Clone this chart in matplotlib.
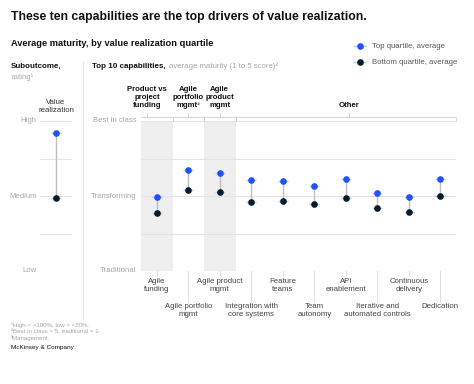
import numpy as np
import matplotlib
matplotlib.use('Agg')
import matplotlib.pyplot as plt

plt.rcParams['font.family'] = ['Liberation Sans', 'DejaVu Sans']

# data
caps = ['Agile\nfunding', 'Agile portfolio\nmgmt', 'Agile product\nmgmt',
        'Integration with\ncore systems', 'Feature\nteams', 'Team\nautonomy',
        'API\nenablement', 'Iterative and\nautomated controls',
        'Continuous\ndelivery', 'Dedication']
top_q = [2.98, 3.69, 3.61, 3.42, 3.40, 3.28, 3.46, 3.09, 2.97, 3.46]
bot_q = [2.55, 3.15, 3.10, 2.84, 2.87, 2.80, 2.95, 2.67, 2.58, 3.00]

vr_top = 2.84
vr_bot = 1.98

mat_levels = [1, 3, 5]
mat_labels = ['Traditional', 'Transforming', 'Best in class']
vr_levels = [1, 2, 3]
vr_labels = ['Low', 'Medium', 'High']

groups = ['Product vs\nproject\nfunding', 'Agile\nportfolio\nmgmt\u00b3', 'Agile\nproduct\nmgmt', 'Other']
group_span = [(-0.5, 0.5), (0.5, 1.5), (1.5, 2.5), (2.5, 9.5)]
group_cx = [-0.3, 1.0, 2.0, 6.1]
shaded = [0, 2]

blue = '#2251FF'
dark = '#051C2C'
grey = '#A6A6A6'
gl = '#E4E4E4'

W, H = 474, 384
fig = plt.figure(figsize=(W / 100, H / 100), dpi=100)

def fx(x):
    return x / W

def fy(y):
    return 1 - y / H

def dot(ax, x, y, c):
    ax.plot(x, y, marker='_', ms=7.5, mew=1.0, color='#C9CCD6', zorder=4, clip_on=False)
    ax.plot(x, y, marker='o', ms=4.8, color=c, mec='none', zorder=5, clip_on=False)

fs = 5.6

# titles
fig.text(fx(11), fy(17), 'These ten capabilities are the top drivers of value realization.',
         fontsize=8.85, fontweight='bold', va='center', ha='left', color='#111111')
fig.text(fx(11), fy(44), 'Average maturity, by value realization quartile',
         fontsize=6.65, fontweight='bold', va='center', ha='left', color='#111111')
fig.text(fx(11), fy(66), 'Suboutcome,', fontsize=5.8, fontweight='bold', va='center', color='#111111')
fig.text(fx(11), fy(77), 'rating\u00b9', fontsize=fs, va='center', color=grey)
fig.text(fx(92), fy(66), 'Top 10 capabilities,', fontsize=5.8, fontweight='bold',
         va='center', color='#111111')
fig.text(fx(169), fy(66), 'average maturity (1 to 5 score)\u00b2', fontsize=fs,
         va='center', color=grey)

# legend
lax = fig.add_axes([fx(350), fy(68), fx(120), 30 / H])
lax.set_xlim(0, 120)
lax.set_ylim(30, 0)
lax.axis('off')
for yy, c, lab in [(8, blue, 'Top quartile, average'), (24, dark, 'Bottom quartile, average')]:
    lax.plot([4, 16], [yy, yy], color='#C9CCD6', lw=1.0)
    lax.plot(10, yy, marker='o', ms=4.8, color=c, mec='none')
    lax.text(22, yy, lab, fontsize=fs, va='center', ha='left', color='#555555')

# separator
fig.add_artist(plt.Line2D([fx(83), fx(83)], [fy(62), fy(319)], color='#E6E6E6', lw=0.8))

# left panel
la = fig.add_axes([fx(40), fy(271), fx(32), 150 / H])
la.set_xlim(0, 1)
la.set_ylim(1, 3)
la.axis('off')
for v in np.arange(1, 3.01, 0.5):
    la.axhline(v, color=gl, lw=0.8, zorder=1)
for v, lab in zip(vr_levels, vr_labels):
    la.text(-0.1, v, lab, fontsize=fs, color=grey, ha='right', va='center')
la.plot([0.5, 0.5], [vr_bot, vr_top], color='#BDBDBD', lw=1.0, zorder=3)
dot(la, 0.5, vr_top, blue)
dot(la, 0.5, vr_bot, dark)
la.text(0.5, 3.09, 'Value\nrealization', fontsize=fs, color='#333333',
        ha='center', va='bottom', linespacing=1.3)

# main panel
ax = fig.add_axes([fx(141), fy(271), fx(315), 150 / H])
ax.set_xlim(-0.5, 9.5)
ax.set_ylim(1, 5)
ax.axis('off')
for i in shaded:
    ax.axvspan(i - 0.5, i + 0.5, color='#EFEFEF', lw=0, zorder=0)
for v in [2, 3, 4, 5]:
    ax.axhline(v, color=gl, lw=0.8, zorder=1)
ax.axhline(1, color='#DADADA', lw=0.8, zorder=1)
for v, lab in zip(mat_levels, mat_labels):
    ax.text(-0.65, v, lab, fontsize=fs, color=grey, ha='right', va='center')

xs = np.arange(len(caps))
for x, a, b in zip(xs, top_q, bot_q):
    ax.plot([x, x], [b, a], color='#BDBDBD', lw=1.0, zorder=3)
    dot(ax, x, a, blue)
    dot(ax, x, b, dark)

# category labels in two rows
tr = ax.get_xaxis_transform()
for i, lab in enumerate(caps):
    if i % 2 == 0:
        ax.text(i, -0.045, lab, transform=tr, fontsize=fs, color='#444444',
                ha='center', va='top', linespacing=1.25)
        ax.plot([i, i], [0, -0.03], transform=tr, color='#E0E0E0', lw=0.7, clip_on=False)
    else:
        ax.text(i, -0.215, lab, transform=tr, fontsize=fs, color='#444444',
                ha='center', va='top', linespacing=1.25)
        ax.plot([i, i], [0, -0.205], transform=tr, color='#E0E0E0', lw=0.7, clip_on=False)

# group bracket
yb = 5.11
ax.plot([-0.5, 9.5], [yb, yb], color='#D8D8D8', lw=0.8, clip_on=False)
ax.plot([9.5, 9.5], [5.0, yb], color='#E0E0E0', lw=0.8, clip_on=False)
for g, (a, b), cx in zip(groups, group_span, group_cx):
    ax.plot([cx, cx], [yb, yb + 0.1], color='#D0D0D0', lw=0.7, clip_on=False)
    if b < 9.5:
        ax.plot([b, b], [5.0, yb], color='#D0D0D0', lw=0.7, clip_on=False)
    ax.text(cx, yb + 0.2, g, fontsize=fs, fontweight='bold', ha='center', va='bottom',
            color='#111111', linespacing=1.2)

# footnotes
fig.text(fx(11), fy(325), '\u00b9High = >100%, low = <20%.', fontsize=4.4, color=grey, va='center')
fig.text(fx(11), fy(331.5), '\u00b2Best in class = 5, traditional = 1.', fontsize=4.4, color=grey, va='center')
fig.text(fx(11), fy(338), '\u00b3Management.', fontsize=4.4, color=grey, va='center')
fig.text(fx(11), fy(347), 'McKinsey & Company', fontsize=4.6, color='#111111', va='center')

fig.savefig('out.png', dpi=100, facecolor='white')
